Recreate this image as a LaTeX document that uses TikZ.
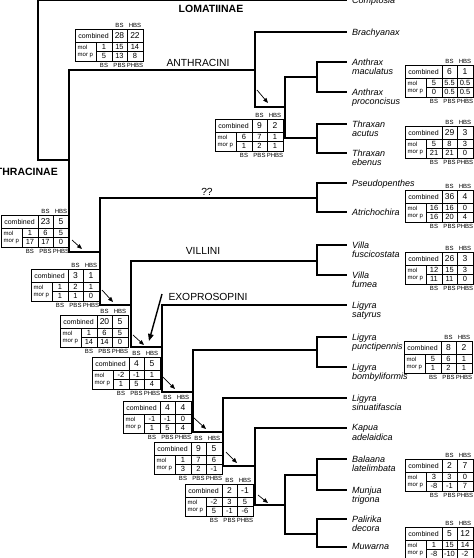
\documentclass[tikz,border=0pt]{standalone}
\usepackage{fontspec}
\setmainfont{Liberation Sans}
\usetikzlibrary{arrows.meta}

% support table: combined BS/HBS, then mol and morp rows (BS PBS PHBS)
\newcommand{\supptab}[8]{%
  \draw[tabline] (0,0) rectangle (68,32);
  \draw[tabline] (0,13) -- (68,13) (21,22.5) -- (68,22.5);
  \draw[tabline] (37,0) -- (37,32) (52,0) -- (52,32) (21,13) -- (21,32);
  \node[hd] (h-bs) at (44.5,-4) {BS};
  \node[hd] (h-hbs) at (60,-4) {HBS};
  \node[lab] (comb) at (18.5,6.5) {combined};
  \node[big] (c-bs) at (44.5,6.8) {#1};
  \node[big] (c-hbs) at (60,6.8) {#2};
  \node[hd, anchor=west] (mol) at (2.5,18) {mol};
  \node[hd, anchor=west] (morp) at (2.5,27) {mor p};
  \node[small] (m-bs) at (29,17.8) {#3};
  \node[small] (m-pbs) at (44.5,17.8) {#4};
  \node[small] (m-phbs) at (60,17.8) {#5};
  \node[small] (p-bs) at (29,27.3) {#6};
  \node[small] (p-pbs) at (44.5,27.3) {#7};
  \node[small] (p-phbs) at (60,27.3) {#8};
  \node[hd] (f-bs) at (29,36.5) {BS};
  \node[hd] (f-pbs) at (44.5,36.5) {PBS};
  \node[hd] (f-phbs) at (60,36.5) {PHBS};
}

\begin{document}
\begin{tikzpicture}[x=1pt, y=-1pt,
  branch/.style={line width=1.4pt},
  taxon/.style={font=\fontsize{9}{9.6}\selectfont\itshape, align=left,
                anchor=north west, inner sep=0pt, xshift=5pt, yshift=3.4pt},
  clade/.style={font=\fontsize{10.3}{12}\selectfont, inner sep=0pt},
  subfam/.style={font=\fontsize{10.5}{12}\selectfont\bfseries, inner sep=0pt},
  tabline/.style={line width=0.7pt},
  hd/.style={font=\fontsize{6}{6}\selectfont, inner sep=0pt},
  lab/.style={font=\fontsize{7}{7}\selectfont, inner sep=0pt},
  big/.style={font=\fontsize{8.5}{8.5}\selectfont, inner sep=0pt},
  small/.style={font=\fontsize{7.5}{7.5}\selectfont, inner sep=0pt},
  ptr/.style={-{Triangle[length=5pt, width=4pt]}, line width=0.7pt},
  bigptr/.style={-{Triangle[length=7pt, width=5.5pt]}, line width=1.4pt}
]
  \useasboundingbox (0,0) rectangle (474,558);

  % internal nodes
  \coordinate (root) at (38,80);
  \coordinate (nA) at (69,160);
  \coordinate (nAnth) at (255,70);
  \coordinate (nAT) at (285,107);
  \coordinate (nAnx) at (317,77);
  \coordinate (nThx) at (317,138);
  \coordinate (nB) at (100,252);
  \coordinate (nQ) at (317,198);
  \coordinate (nC) at (131,305);
  \coordinate (nVil) at (317,261);
  \coordinate (nD) at (162,347);
  \coordinate (nE) at (193,392);
  \coordinate (nLp) at (317,350);
  \coordinate (nF) at (223,432);
  \coordinate (nG) at (255,466);
  \coordinate (nH) at (285,505);
  \coordinate (nBM) at (317,475);
  \coordinate (nPM) at (317,534);

  % tips
  \coordinate (tComp) at (347,0.6);
  \coordinate (tBrac) at (347,32);
  \coordinate (tAmac) at (347,62);
  \coordinate (tApro) at (347,92);
  \coordinate (tTacu) at (347,124);
  \coordinate (tTebe) at (347,153);
  \coordinate (tPseu) at (347,183);
  \coordinate (tAtri) at (347,212);
  \coordinate (tVfus) at (347,245);
  \coordinate (tVfum) at (347,275);
  \coordinate (tLsat) at (347,305);
  \coordinate (tLpun) at (347,337);
  \coordinate (tLbom) at (347,367);
  \coordinate (tLsin) at (347,398);
  \coordinate (tKapu) at (347,428);
  \coordinate (tBala) at (347,459);
  \coordinate (tMunj) at (347,490);
  \coordinate (tPali) at (347,519);
  \coordinate (tMuwa) at (347,547);

  % branches
  \draw[branch] (root) |- (tComp);
  \draw[branch] (root) |- (nA);
  \draw[branch] (nA) |- (nAnth);
  \draw[branch] (nA) |- (nB);
  \draw[branch] (nAnth) |- (tBrac);
  \draw[branch] (nAnth) |- (nAT);
  \draw[branch] (nAT) |- (nAnx);
  \draw[branch] (nAT) |- (nThx);
  \draw[branch] (nAnx) |- (tAmac);
  \draw[branch] (nAnx) |- (tApro);
  \draw[branch] (nThx) |- (tTacu);
  \draw[branch] (nThx) |- (tTebe);
  \draw[branch] (nB) |- (nQ);
  \draw[branch] (nB) |- (nC);
  \draw[branch] (nQ) |- (tPseu);
  \draw[branch] (nQ) |- (tAtri);
  \draw[branch] (nC) |- (nVil);
  \draw[branch] (nC) |- (nD);
  \draw[branch] (nVil) |- (tVfus);
  \draw[branch] (nVil) |- (tVfum);
  \draw[branch] (nD) |- (tLsat);
  \draw[branch] (nD) |- (nE);
  \draw[branch] (nE) |- (nLp);
  \draw[branch] (nE) |- (nF);
  \draw[branch] (nLp) |- (tLpun);
  \draw[branch] (nLp) |- (tLbom);
  \draw[branch] (nF) |- (tLsin);
  \draw[branch] (nF) |- (nG);
  \draw[branch] (nG) |- (tKapu);
  \draw[branch] (nG) |- (nH);
  \draw[branch] (nH) |- (nBM);
  \draw[branch] (nH) |- (nPM);
  \draw[branch] (nBM) |- (tBala);
  \draw[branch] (nBM) |- (tMunj);
  \draw[branch] (nPM) |- (tPali);
  \draw[branch] (nPM) |- (tMuwa);

  % taxa
  \node[taxon] (comptosia) at (tComp) {Comptosia};
  \node[taxon] (brachyanax) at (tBrac) {Brachyanax};
  \node[taxon] (amaculatus) at (tAmac) {Anthrax\\maculatus};
  \node[taxon] (aproconcisus) at (tApro) {Anthrax\\proconcisus};
  \node[taxon] (tacutus) at (tTacu) {Thraxan\\acutus};
  \node[taxon] (tebenus) at (tTebe) {Thraxan\\ebenus};
  \node[taxon] (pseudopenthes) at (tPseu) {Pseudopenthes};
  \node[taxon] (atrichochira) at (tAtri) {Atrichochira};
  \node[taxon] (vfuscicostata) at (tVfus) {Villa\\fuscicostata};
  \node[taxon] (vfumea) at (tVfum) {Villa\\fumea};
  \node[taxon] (lsatyrus) at (tLsat) {Ligyra\\satyrus};
  \node[taxon] (lpunctipennis) at (tLpun) {Ligyra\\punctipennis};
  \node[taxon] (lbombyliformis) at (tLbom) {Ligyra\\bombyliformis};
  \node[taxon] (lsinuatifascia) at (tLsin) {Ligyra\\sinuatifascia};
  \node[taxon] (kadelaidica) at (tKapu) {Kapua\\adelaidica};
  \node[taxon] (blatelimbata) at (tBala) {Balaana\\latelimbata};
  \node[taxon] (mtrigona) at (tMunj) {Munjua\\trigona};
  \node[taxon] (pdecora) at (tPali) {Palirika\\decora};
  \node[taxon] (muwarna) at (tMuwa) {Muwarna};

  % clade labels
  \node[subfam] (lomatiinae) at (211,9) {LOMATIINAE};
  \node[subfam, anchor=east] (anthracinae) at (58,172) {ANTHRACINAE};
  \node[clade] (anthracini) at (198,63) {ANTHRACINI};
  \node[clade] (unknown) at (207,192) {??};
  \node[clade] (villini) at (203,251) {VILLINI};
  \node[clade] (exoprosopini) at (208,297) {EXOPROSOPINI};

  % support tables
  \begin{scope}[shift={(75,29)}, name prefix=lomat-]
    \supptab{28}{22}{1}{15}{14}{5}{13}{8}
  \end{scope}
  \begin{scope}[shift={(215,119)}, name prefix=anthr-]
    \supptab{9}{2}{6}{7}{1}{1}{2}{1}
  \end{scope}
  \begin{scope}[shift={(405,65)}, name prefix=anx-]
    \supptab{6}{1}{5}{5.5}{0.5}{0}{0.5}{0.5}
  \end{scope}
  \begin{scope}[shift={(405,126)}, name prefix=thx-]
    \supptab{29}{3}{5}{8}{3}{21}{21}{0}
  \end{scope}
  \begin{scope}[shift={(405,190)}, name prefix=pseu-]
    \supptab{36}{4}{16}{16}{0}{16}{20}{4}
  \end{scope}
  \begin{scope}[shift={(405,252)}, name prefix=villa-]
    \supptab{26}{3}{12}{15}{3}{11}{11}{0}
  \end{scope}
  \begin{scope}[shift={(404,341)}, name prefix=ligp-]
    \supptab{8}{2}{5}{6}{1}{1}{2}{1}
  \end{scope}
  \begin{scope}[shift={(405,459)}, name prefix=bala-]
    \supptab{2}{7}{3}{3}{0}{-8}{-1}{7}
  \end{scope}
  \begin{scope}[shift={(405,527)}, name prefix=pali-]
    \supptab{5}{12}{1}{15}{14}{-8}{-10}{-2}
  \end{scope}
  \begin{scope}[shift={(1,215)}, name prefix=tabB-]
    \supptab{23}{5}{1}{6}{5}{17}{17}{0}
  \end{scope}
  \begin{scope}[shift={(31,269)}, name prefix=tabC-]
    \supptab{3}{1}{1}{2}{1}{1}{1}{0}
  \end{scope}
  \begin{scope}[shift={(60,315)}, name prefix=tabD-]
    \supptab{20}{5}{1}{6}{5}{14}{14}{0}
  \end{scope}
  \begin{scope}[shift={(92,357)}, name prefix=tabE-]
    \supptab{4}{5}{-2}{-1}{1}{1}{5}{4}
  \end{scope}
  \begin{scope}[shift={(123,401)}, name prefix=tabF-]
    \supptab{4}{4}{-1}{-1}{0}{1}{5}{4}
  \end{scope}
  \begin{scope}[shift={(154,442)}, name prefix=tabG-]
    \supptab{9}{5}{1}{7}{6}{3}{2}{-1}
  \end{scope}
  \begin{scope}[shift={(185,484)}, name prefix=tabH-]
    \supptab{2}{-1}{-2}{3}{5}{5}{-1}{-6}
  \end{scope}

  % pointers to branches
  \coordinate (p1-from) at (257,90);   \coordinate (p1-to) at (268,103);
  \coordinate (p2-from) at (72,240);   \coordinate (p2-to) at (82,249);
  \coordinate (p3-from) at (102,290);  \coordinate (p3-to) at (113,302);
  \coordinate (p4-from) at (133,335);  \coordinate (p4-to) at (144,345);
  \coordinate (p5-from) at (163,377);  \coordinate (p5-to) at (175,389);
  \coordinate (p6-from) at (194,418);  \coordinate (p6-to) at (206,429);
  \coordinate (p7-from) at (226,452);  \coordinate (p7-to) at (237,463);
  \coordinate (p8-from) at (258,495);  \coordinate (p8-to) at (268,503);
  \coordinate (exo-from) at (162,294); \coordinate (exo-to) at (149,341);
  \draw[ptr] (p1-from) -- (p1-to);
  \draw[ptr] (p2-from) -- (p2-to);
  \draw[ptr] (p3-from) -- (p3-to);
  \draw[ptr] (p4-from) -- (p4-to);
  \draw[ptr] (p5-from) -- (p5-to);
  \draw[ptr] (p6-from) -- (p6-to);
  \draw[ptr] (p7-from) -- (p7-to);
  \draw[ptr] (p8-from) -- (p8-to);
  \draw[bigptr] (exo-from) -- (exo-to);
\end{tikzpicture}
\end{document}
